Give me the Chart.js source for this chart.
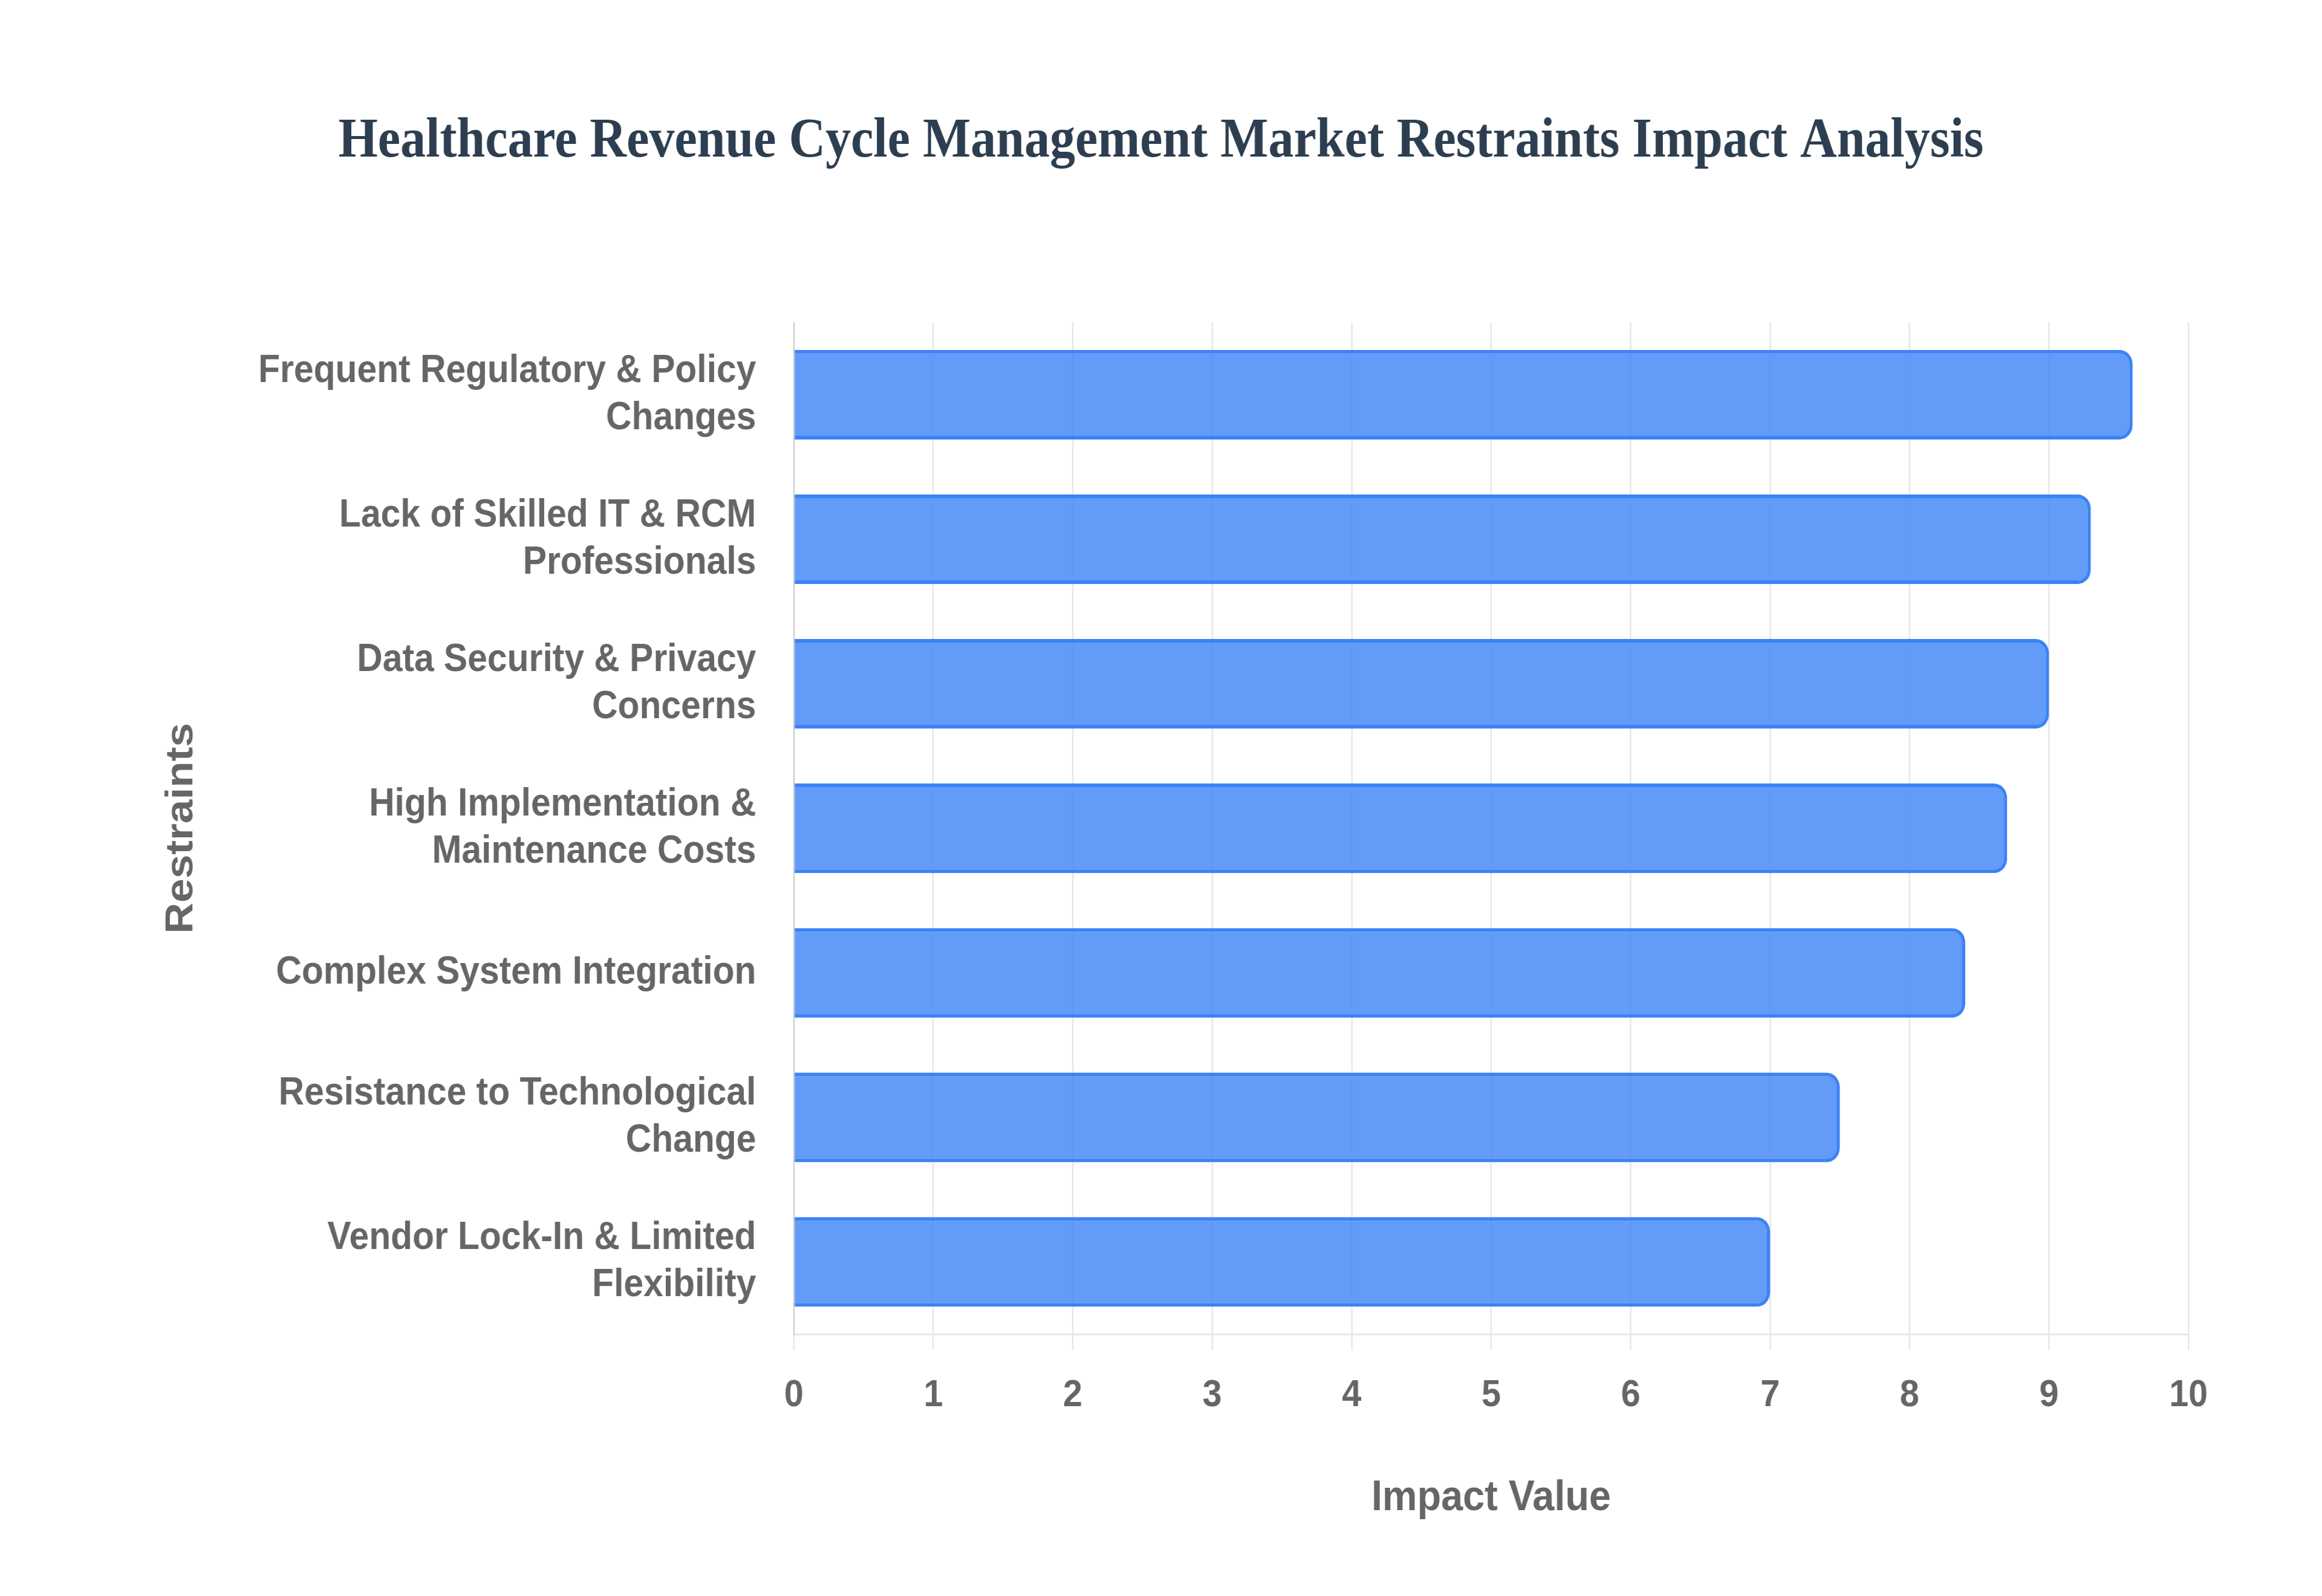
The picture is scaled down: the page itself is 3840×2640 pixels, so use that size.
<!DOCTYPE html>
<html>
<head>
<meta charset="utf-8">
<script src="https://cdn.jsdelivr.net/npm/chart.js@4.4.1/dist/chart.umd.min.js"></script>
<style>
  html, body { margin: 0; padding: 0; background: #ffffff; overflow: hidden; }
</style>
</head>
<body>
<canvas id="restraintsChart" width="1600" height="1000" style="display:block;width:3840px;height:2640px;"></canvas>
<script>
// Categories (wrapped the way they appear on the axis)
const restraintLabels = [
    ['Frequent Regulatory & Policy', 'Changes'],
    ['Lack of Skilled IT & RCM', 'Professionals'],
    ['Data Security & Privacy', 'Concerns'],
    ['High Implementation &', 'Maintenance Costs'],
    'Complex System Integration',
    ['Resistance to Technological', 'Change'],
    ['Vendor Lock-In & Limited', 'Flexibility']
];

// Impact values
const impactValues = [9.6, 9.3, 9.0, 8.7, 8.4, 7.5, 7.0];

// x axis range / ticks
const impactMin = 0;
const impactMax = 10;
const impactStep = 1;

const labelColor = '#666666';
const sansFont = "'Liberation Sans', Arial, Helvetica, sans-serif";

function renderChart() {
    const config = {
        type: 'bar',
        data: {
            labels: restraintLabels,
            datasets: [{
                label: 'Impact Value',
                data: impactValues,
                backgroundColor: 'rgba(59, 130, 246, 0.8)',
                borderColor: 'rgb(59, 130, 246)',
                borderWidth: 2.3,
                borderRadius: 9,
                categoryPercentage: 0.8,
                barPercentage: 0.775
            }]
        },
        options: {
            indexAxis: 'y',
            responsive: false,
            animation: false,
            devicePixelRatio: 2.64,
            layout: {
                padding: 0
            },
            plugins: {
                legend: { display: false },
                tooltip: { enabled: false },
                title: {
                    display: true,
                    text: 'Healthcare Revenue Cycle Management Market Restraints Impact Analysis',
                    color: '#2c3e50',
                    font: { family: "'Liberation Serif', 'Times New Roman', serif", size: 35, weight: 'bold' },
                    padding: { top: 68, bottom: 92 }
                }
            },
            scales: {
                x: {
                    min: impactMin,
                    max: impactMax,
                    ticks: {
                        stepSize: impactStep,
                        color: labelColor,
                        padding: 14,
                        font: { family: sansFont, size: 24, weight: 'bold' }
                    },
                    grid: {
                        color: 'rgba(0, 0, 0, 0.1)',
                        tickLength: 10
                    },
                    border: { color: 'rgba(0, 0, 0, 0.1)' },
                    title: {
                        display: true,
                        text: 'Impact Value',
                        color: labelColor,
                        font: { family: sansFont, size: 27, weight: 'bold' },
                        padding: { top: 34, bottom: 45 }
                    },
                    afterFit: scale => { scale.height = 164; }
                },
                y: {
                    ticks: {
                        color: labelColor,
                        padding: 26,
                        font: { family: sansFont, size: 24.5, weight: 'bold', lineHeight: 1.21 }
                    },
                    grid: { display: false, drawTicks: false },
                    border: { color: 'rgba(0, 0, 0, 0.1)' },
                    title: {
                        display: true,
                        text: 'Restraints',
                        color: labelColor,
                        font: { family: sansFont, size: 27, weight: 'bold' },
                        padding: { top: 109, bottom: 0 }
                    },
                    afterFit: scale => { scale.width = 547; }
                },
                // empty margin on the right so the title stays centred on the page
                yRight: {
                    position: 'right',
                    ticks: { display: false },
                    grid: { display: false, drawTicks: false },
                    border: { display: false },
                    afterFit: scale => { scale.width = 92; }
                }
            }
        }
    };

    return new Chart(document.getElementById('restraintsChart'), config);
}

renderChart();
</script>
</body>
</html>
